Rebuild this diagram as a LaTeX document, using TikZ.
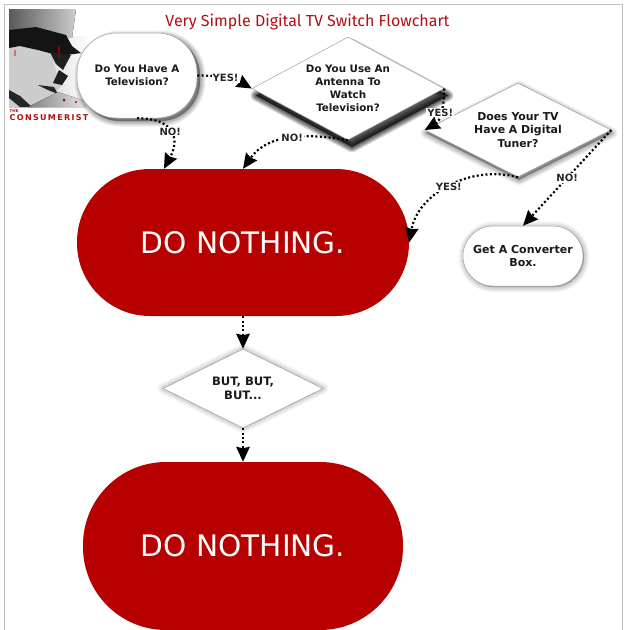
\documentclass[tikz,border=0pt]{standalone}
\usepackage{fontspec}
\setmainfont{DejaVu Sans}
\newfontfamily\titlefont{Fira Sans}
\usetikzlibrary{arrows.meta,shapes.geometric}
\definecolor{donothingred}{RGB}{183,0,0}
\definecolor{titlered}{RGB}{178,16,20}
\definecolor{edgegray}{RGB}{160,160,160}
\tikzset{
  shadowlayer/.style n args={3}{preaction={draw=black,fill=black,line join=round,line width=#1,opacity=#2,transform canvas={shift={(#3)}}}},
  softshadow/.style n args={3}{shadowlayer={11pt}{#1}{#2,#3},shadowlayer={8.5pt}{#1}{#2,#3},shadowlayer={6.5pt}{#1}{#2,#3},shadowlayer={4.5pt}{#1}{#2,#3},shadowlayer={2.5pt}{#1}{#2,#3},shadowlayer={.5pt}{#1}{#2,#3}},
  question/.style={draw=edgegray,line width=.5pt,fill=white,align=center,inner sep=0pt,font=\bfseries\fontsize{10.3}{13.2}\selectfont,text=black!90},
  pill/.style={question,rectangle,rounded corners=#1},
  choice/.style={question,diamond},
  bigpill/.style={rectangle,rounded corners=#1,fill=donothingred,text=white,inner sep=0pt,font=\fontsize{29.6}{34}\selectfont},
  flow/.style={line width=2.2pt,dash pattern=on 2pt off 2.4pt,-{Stealth[length=15pt,width=13.5pt,inset=1.5pt]}},
  answer/.style={fill=white,inner sep=1pt,font=\bfseries\fontsize{10}{11}\selectfont,text=black!85},
}
\begin{document}
\begin{tikzpicture}[x=1pt,y=-1pt]
    \useasboundingbox(0,0)rectangle(626,630);
    \fill[white](0,0)rectangle(626,630);
    \draw[black!25,line width=.8pt](4,630)--(4,4)--(622,4)--(622,630);
    % portrait
    \fill[left color=black!25,right color=white](9,36)rectangle(90,107);
    \fill[left color=black!65,right color=black!20](9,9)--(76,9)--(72,38)--(9,36)--cycle;
    \fill[black!20](9,46)--(20,44)--(38,46)--(52,56)--(55,68)--(58,76)--(63,84)--(56,92)--(58,100)--(40,107)--(9,107)--cycle;
    \fill[black!92](9,30)--(36,27)--(66,35)--(72,46)--(81,53)--(60,56)--(38,50)--(20,46)--(9,48)--cycle;
    \fill[black!88](50,52)--(71,55)--(63,70)--(56,64)--cycle;
    \fill[black!88](59,70)--(68,76)--(62,85)--(53,83)--cycle;
    \fill[black!85](38,85)--(54,87)--(58,94)--(48,90)--cycle;
    \fill[black!85](9,90)--(20,96)--(32,107)--(20,107)--(9,98)--cycle;
    \fill[left color=black!50,right color=black!10](28,107)--(58,92)--(82,100)--(86,107)--cycle;
    \fill[titlered!80!black](64,100)circle(1.5);\fill[titlered!80!black](76,102)circle(1.2);
    \fill[titlered!70!black](58,46)rectangle(60,58);\fill[titlered!60](14,50)rectangle(15.5,56);
    \node[font=\bfseries\fontsize{4}{4}\selectfont,text=titlered,inner sep=0pt,anchor=west] (thelabel) at (9.5,111) {THE};
    \node[font=\bfseries\fontsize{8}{8}\selectfont,text=titlered,inner sep=0pt,anchor=west] (brandlabel) at (9.5,118) {C\,O\,N\,S\,U\,M\,E\,R\,I\,S\,T};
    \node[font=\titlefont\fontsize{16}{18}\selectfont,text=titlered,inner sep=0pt] (charttitle) at (307.5,22) {Very Simple Digital TV Switch Flowchart};
    % shapes
    \node[pill=40pt,softshadow={.07}{3pt}{-3pt},minimum width=120pt,minimum height=85pt] (television) at (137,75.5) {Do You Have A\\Television?};
    \node[choice,softshadow={.17}{4pt}{-7pt},aspect=1.85,minimum width=192pt,minimum height=103pt] (antenna) at (348,88.5) {Do You Use An\\Antenna To\\Watch\\Television?};
    \node[choice,softshadow={.06}{1pt}{-3pt},aspect=2,minimum width=186pt,minimum height=94pt,font=\bfseries\fontsize{10.9}{13.5}\selectfont] (tuner) at (518,130) {Does Your TV\\Have A Digital\\Tuner?};
    \node[pill=30pt,softshadow={.04}{1pt}{-1pt},minimum width=120pt,minimum height=60pt,font=\bfseries\fontsize{11}{13.5}\selectfont] (converter) at (523,256) {Get A Converter\\Box.};
    \node[bigpill=73pt,minimum width=332pt,minimum height=147pt] (nothingone) at (243,242.5) {DO NOTHING.};
    \node[choice,softshadow={.035}{0pt}{0pt},aspect=2,minimum width=160pt,minimum height=79pt,font=\bfseries\fontsize{11.6}{14}\selectfont] (but) at (243,388.5) {BUT, BUT,\\BUT...};
    \node[bigpill=83pt,minimum width=320pt,minimum height=168pt] (nothingtwo) at (243,546) {DO NOTHING.};
    % connectors
    \draw[flow](television.east)to[out=0,in=150]node[answer,pos=.5]{YES!}(antenna.west);
    \draw[flow](television.south)to[out=0,in=62,looseness=1.6]node[answer,pos=.5]{NO!}(nothingone.137);
    \draw[flow](antenna.south)to[out=170,in=55]node[answer,pos=.47]{NO!}(nothingone.north);
    \draw[flow](antenna.east)to[out=-90,in=30]node[answer,pos=.5]{YES!}(tuner.west);
    \draw[flow](tuner.south)to[out=165,in=80]node[answer,pos=.5]{YES!}(nothingone.east);
    \draw[flow](tuner.east)--node[answer,pos=.5]{NO!}(converter.north);
    \draw[flow](nothingone.south)--(but.north);
    \draw[flow](but.south)--(nothingtwo.north);
\end{tikzpicture}
\end{document}
